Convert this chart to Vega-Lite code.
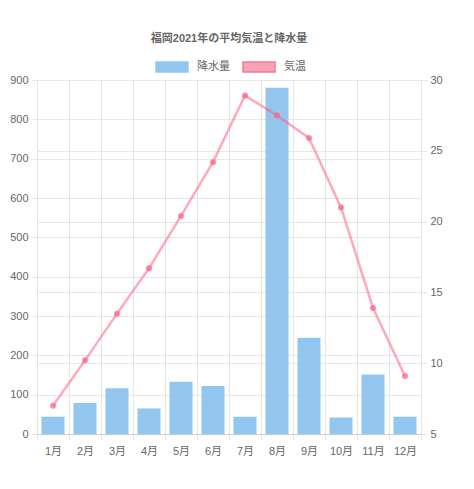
{
  "$schema": "https://vega.github.io/schema/vega-lite/v6.json",
  "autosize": {"type": "none"},
  "width": 384,
  "height": 354,
  "padding": {"left": 37, "top": 80, "right": 53, "bottom": 55},
  "background": "white",
  "title": {
    "text": "福岡2021年の平均気温と降水量",
    "anchor": "middle",
    "fontSize": 11,
    "fontWeight": "bold",
    "color": "#666666",
    "font": "Liberation Sans, Noto Sans CJK JP",
    "offset": 6
  },
  "data": {
    "values": [
      {"month": "1月", "precip": 44, "temp": 7.0},
      {"month": "2月", "precip": 79, "temp": 10.2},
      {"month": "3月", "precip": 116, "temp": 13.5},
      {"month": "4月", "precip": 65, "temp": 16.7},
      {"month": "5月", "precip": 133, "temp": 20.4},
      {"month": "6月", "precip": 122, "temp": 24.2},
      {"month": "7月", "precip": 44, "temp": 28.9},
      {"month": "8月", "precip": 880, "temp": 27.5},
      {"month": "9月", "precip": 245, "temp": 25.9},
      {"month": "10月", "precip": 42, "temp": 21.0},
      {"month": "11月", "precip": 151, "temp": 13.9},
      {"month": "12月", "precip": 44, "temp": 9.1}
    ]
  },
  "encoding": {
    "x": {
      "field": "month",
      "type": "ordinal",
      "sort": null,
      "title": null,
      "scale": {"paddingInner": 0, "paddingOuter": 0},
      "axis": {
        "labelAngle": 0,
        "tickBand": "extent",
        "grid": true,
        "gridColor": "#e6e6e6",
        "tickColor": "#e6e6e6",
        "tickSize": 6,
        "domainColor": "#cccccc",
        "labelColor": "#666666",
        "labelFontSize": 11,
        "labelPadding": 5
      }
    }
  },
  "layer": [
    {
      "mark": {"type": "bar", "width": {"band": 0.72}},
      "encoding": {
        "y": {
          "field": "precip",
          "type": "quantitative",
          "title": null,
          "scale": {"domain": [0, 900]},
          "axis": {
            "orient": "left",
            "values": [0, 100, 200, 300, 400, 500, 600, 700, 800, 900],
            "grid": true,
            "gridColor": "#e6e6e6",
            "domain": false,
            "tickColor": "#e6e6e6",
            "tickSize": 6,
            "labelColor": "#666666",
            "labelFontSize": 11,
            "labelPadding": 3
          }
        },
        "color": {
          "datum": "降水量",
          "scale": {"domain": ["降水量", "気温"], "range": ["#93c6ef", "#f9a3b6"]},
          "legend": {
            "title": null,
            "orient": "none",
            "direction": "horizontal",
            "legendX": 118,
            "legendY": -30,
            "symbolType": "M-1,-0.3125H1V0.3125H-1Z",
            "symbolSize": 1024,
            "symbolOpacity": 1,
            "labelFontSize": 11,
            "labelColor": "#666666",
            "labelFont": "Noto Sans CJK JP",
            "labelOffset": 8,
            "columnPadding": 10,
            "encode": {
              "symbols": {
                "update": {
                  "stroke": {"signal": "datum.value === '気温' ? '#f27a97' : '#93c6ef'"},
                  "strokeWidth": {"value": 1.5}
                }
              }
            }
          }
        }
      }
    },
    {
      "mark": {
        "type": "line",
        "stroke": "#ff6384",
        "strokeOpacity": 0.55,
        "strokeWidth": 2.5,
        "point": {"filled": true, "color": "#ff6384", "opacity": 0.75, "size": 36}
      },
      "encoding": {
        "y": {
          "field": "temp",
          "type": "quantitative",
          "title": null,
          "scale": {"domain": [5, 30], "zero": false},
          "axis": {
            "orient": "right",
            "values": [5, 10, 15, 20, 25, 30],
            "grid": true,
            "gridColor": "#e6e6e6",
            "domain": false,
            "tickColor": "#e6e6e6",
            "tickSize": 6,
            "labelColor": "#666666",
            "labelFontSize": 11,
            "labelPadding": 3
          }
        }
      }
    }
  ],
  "resolve": {"scale": {"y": "independent"}},
  "config": {
    "font": "Liberation Sans, Noto Sans CJK JP",
    "view": {"stroke": null}
  }
}
